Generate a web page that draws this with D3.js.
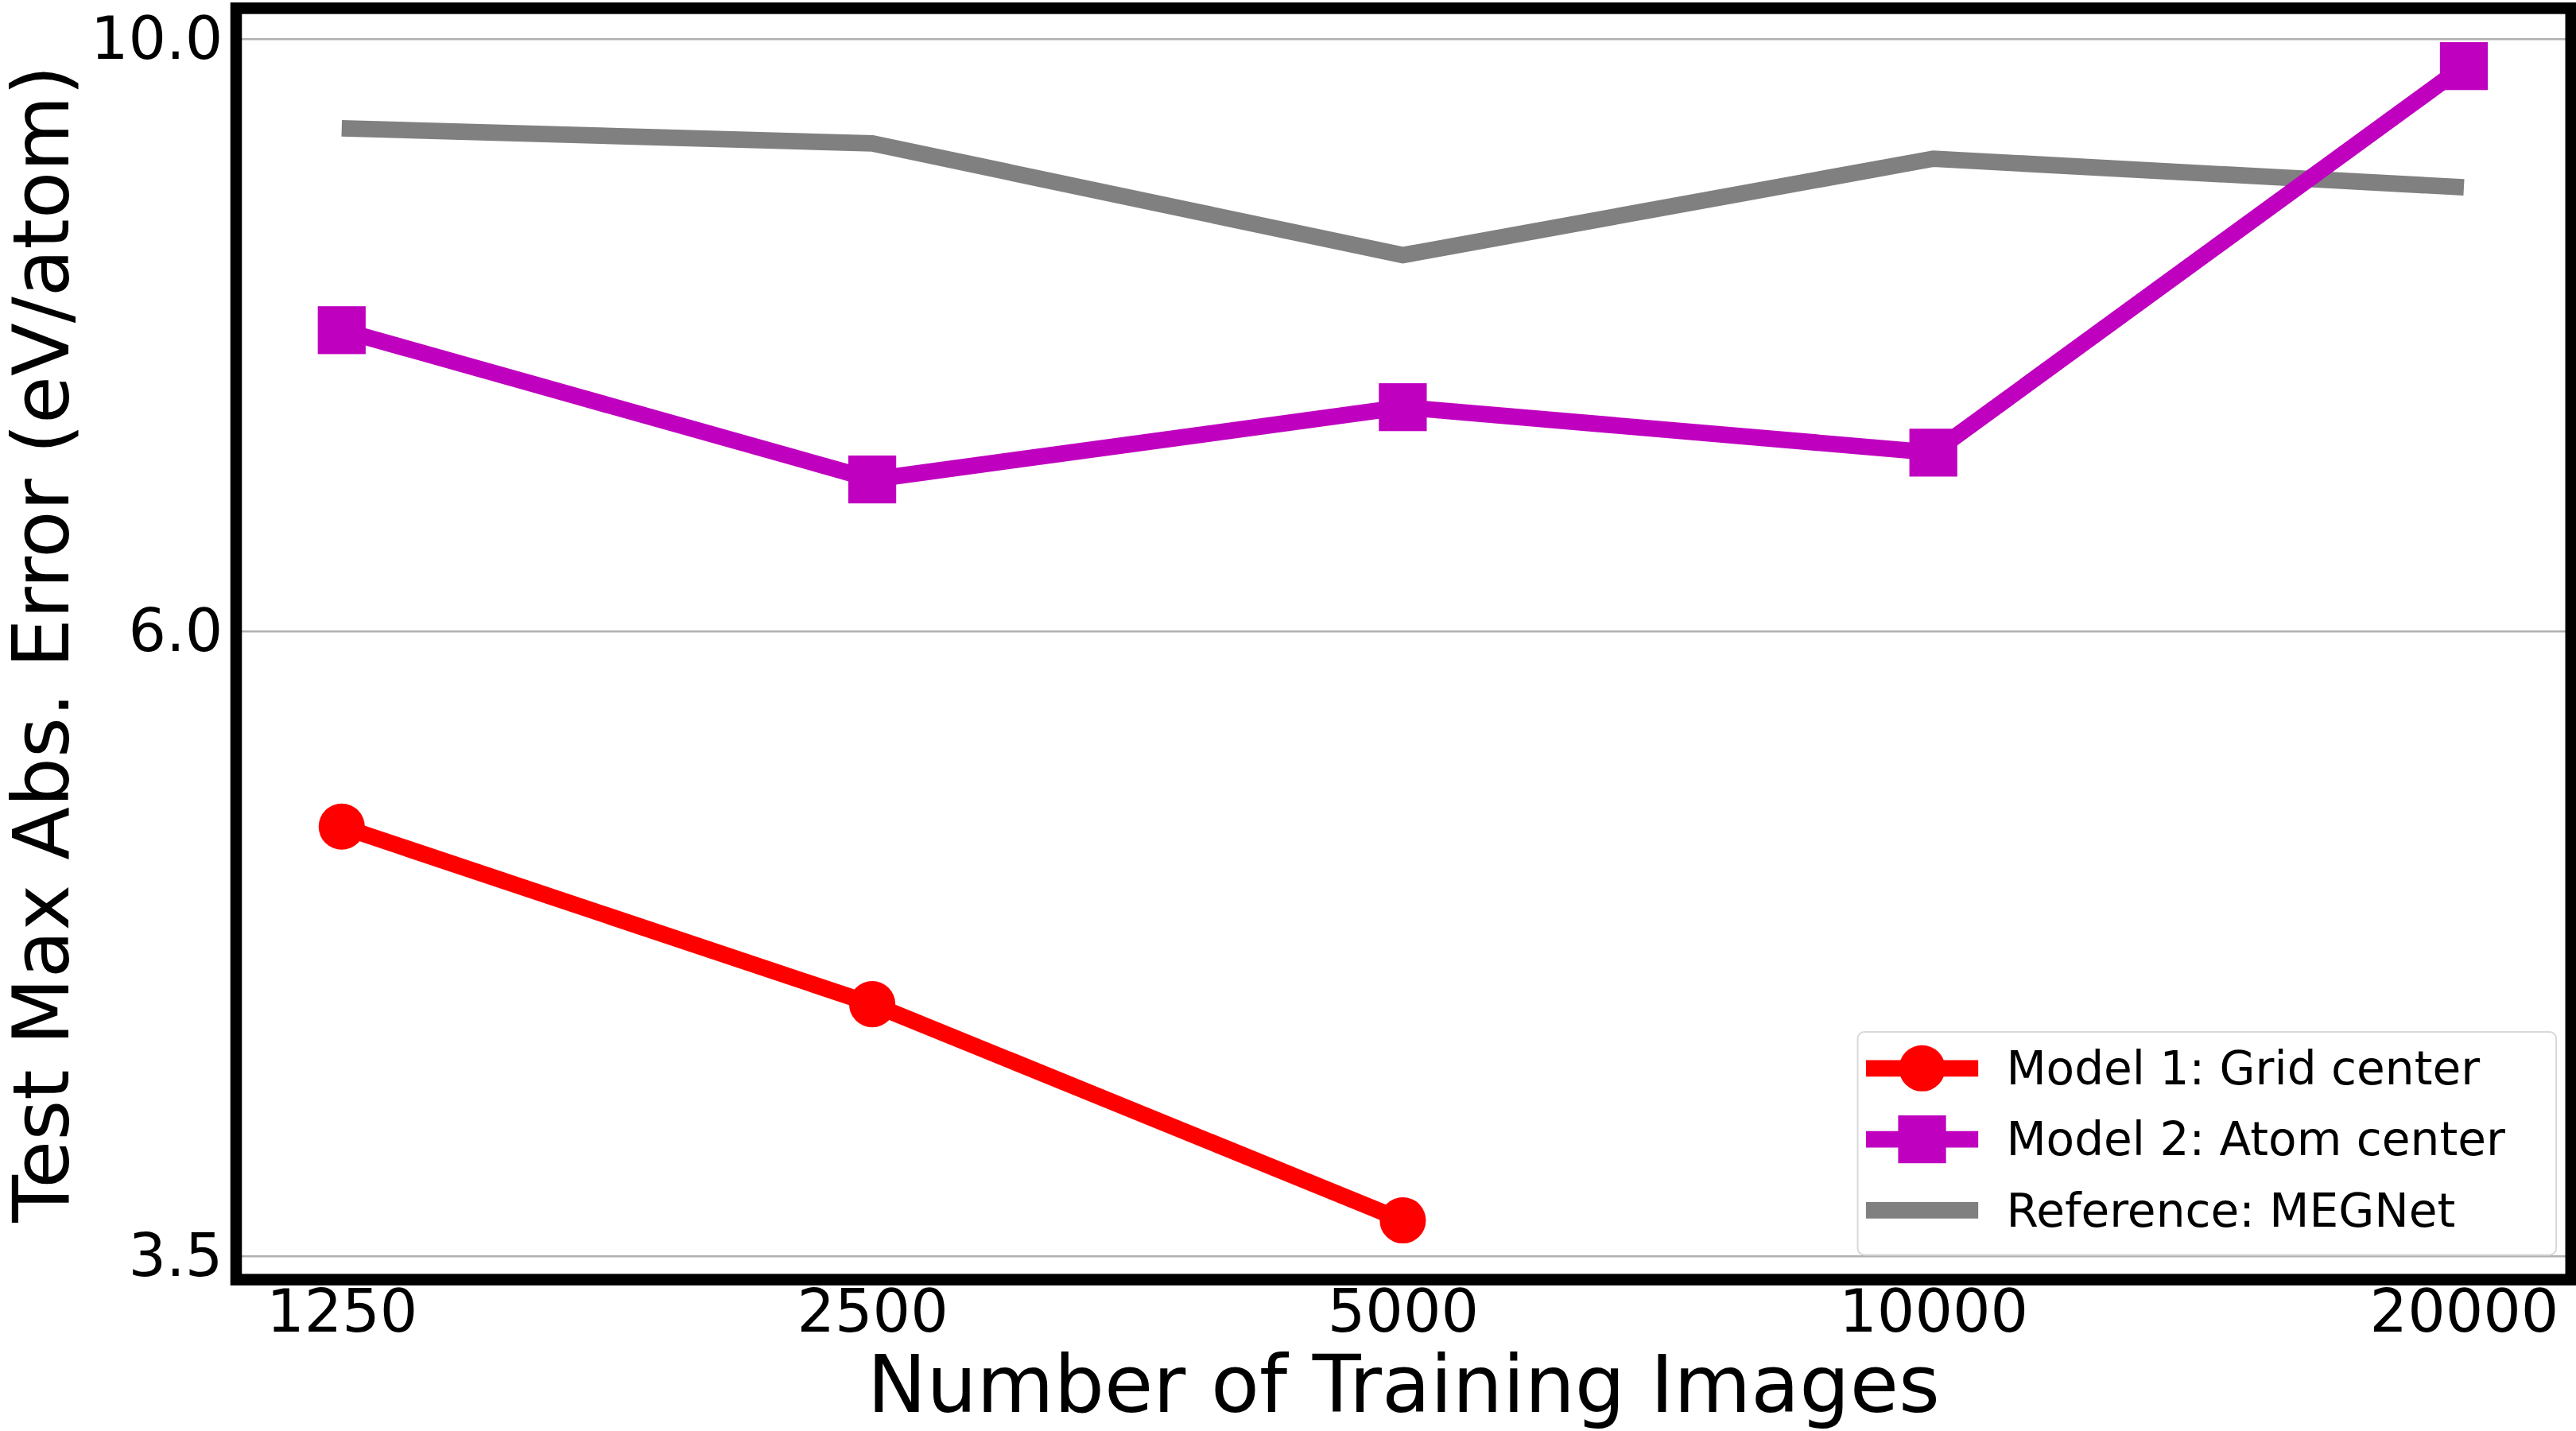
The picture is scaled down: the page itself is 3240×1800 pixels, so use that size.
<!DOCTYPE html>
<html><head><meta charset="utf-8">
<script src="https://cdn.jsdelivr.net/npm/d3@7"></script>
<style>body{margin:0;background:#fff}svg{display:block;font-family:"DejaVu Sans",sans-serif}</style>
</head><body>
<svg id="c" width="3240" height="1800"></svg>
<script>
const xTicks = [1250, 2500, 5000, 10000, 20000];
const gridX = [1250, 2500, 5000];
const gridY = [5.07, 4.35, 3.61];
const atomX = [1250, 2500, 5000, 10000, 20000];
const atomY = [7.78, 6.84, 7.28, 7.00, 9.77];
const megX = [1250, 2500, 5000, 10000, 20000];
const megY = [9.26, 9.14, 8.30, 9.02, 8.80];
const yTicks = [3.5, 6.0, 10.0];
const legendLabels = ["Model 1: Grid center", "Model 2: Atom center", "Reference: MEGNet"];

const s = 3240/1560;
const L = 143*s, R = 1557*s, T = 5*s, B = 775*s;
const svg = d3.select("#c");
const x = d3.scaleLog().base(2).domain([1250*Math.pow(2,-0.199), 20000*Math.pow(2,0.202)]).range([L, R]);
const y = d3.scaleLog().domain([3.43, 10.27]).range([B, T]);

svg.append("g").selectAll("line").data(yTicks).join("line")
  .attr("x1", L).attr("x2", R).attr("y1", d=>y(d)).attr("y2", d=>y(d))
  .attr("stroke", "#b0b0b0").attr("stroke-width", 2.5);

const xa = svg.append("g").attr("transform", `translate(0,${B})`)
  .call(d3.axisBottom(x).tickValues(xTicks).tickFormat(d3.format("d")).tickSize(0).tickPadding(6*s));
xa.select(".domain").remove();
xa.selectAll("text").attr("font-size", 36*s).attr("fill", "#000").attr("font-family", "DejaVu Sans");
const ya = svg.append("g").attr("transform", `translate(${L},0)`)
  .call(d3.axisLeft(y).tickValues(yTicks).tickFormat(d3.format(".1f")).tickSize(0).tickPadding(8*s));
ya.select(".domain").remove();
ya.selectAll("text").attr("font-size", 36*s).attr("fill", "#000").attr("font-family", "DejaVu Sans");

svg.append("text").attr("x", (L+R)/2).attr("y", 855*s).attr("text-anchor", "middle")
  .attr("font-size", 48*s).text("Number of Training Images");
svg.append("text").attr("transform", `translate(${25*s},${(T+B)/2}) rotate(-90)`).attr("text-anchor", "middle")
  .attr("font-size", 47*s).attr("dy", "0.35em").text("Test Max Abs. Error (eV/atom)");

const line = d3.line().x(d=>x(d[0])).y(d=>y(d[1]));
const lw = 10*s;
svg.append("path").datum(megX.map((v,i)=>[v,megY[i]])).attr("d", line).attr("fill","none").attr("stroke","#808080").attr("stroke-width", lw);
svg.append("path").datum(atomX.map((v,i)=>[v,atomY[i]])).attr("d", line).attr("fill","none").attr("stroke","#bf00bf").attr("stroke-width", lw);
const sq = 29*s;
svg.append("g").selectAll("rect").data(atomX.map((v,i)=>[v,atomY[i]])).join("rect")
  .attr("x", d=>x(d[0])-sq/2).attr("y", d=>y(d[1])-sq/2).attr("width", sq).attr("height", sq).attr("fill", "#bf00bf");
svg.append("path").datum(gridX.map((v,i)=>[v,gridY[i]])).attr("d", line).attr("fill","none").attr("stroke","#ff0000").attr("stroke-width", lw);
svg.append("g").selectAll("circle").data(gridX.map((v,i)=>[v,gridY[i]])).join("circle")
  .attr("cx", d=>x(d[0])).attr("cy", d=>y(d[1])).attr("r", 14*s).attr("fill", "#ff0000");

svg.append("rect").attr("x", L).attr("y", T).attr("width", R-L).attr("height", B-T)
  .attr("fill","none").attr("stroke","#000").attr("stroke-width", 7*s);

const lg = svg.append("g");
lg.append("rect").attr("x", 1125*s).attr("y", 625*s).attr("width", 423*s).attr("height", 135*s)
  .attr("rx", 4*s).attr("fill", "#fff").attr("fill-opacity", 0.8).attr("stroke", "#d9d9d9").attr("stroke-width", 2);
const colors = ["#ff0000", "#bf00bf", "#808080"];
legendLabels.forEach((t,i)=>{
  const cy = (647 + i*43)*s;
  lg.append("line").attr("x1", 1130*s).attr("x2", 1198*s).attr("y1", cy).attr("y2", cy).attr("stroke", colors[i]).attr("stroke-width", lw);
  if (i===0) lg.append("circle").attr("cx", 1164*s).attr("cy", cy).attr("r", 14*s).attr("fill", colors[0]);
  if (i===1) lg.append("rect").attr("x", 1164*s-sq/2).attr("y", cy-sq/2).attr("width", sq).attr("height", sq).attr("fill", colors[1]);
  lg.append("text").attr("x", 1215*s).attr("y", cy).attr("dy", "0.35em").attr("font-size", 28*s).text(t);
});
</script>
</body></html>
